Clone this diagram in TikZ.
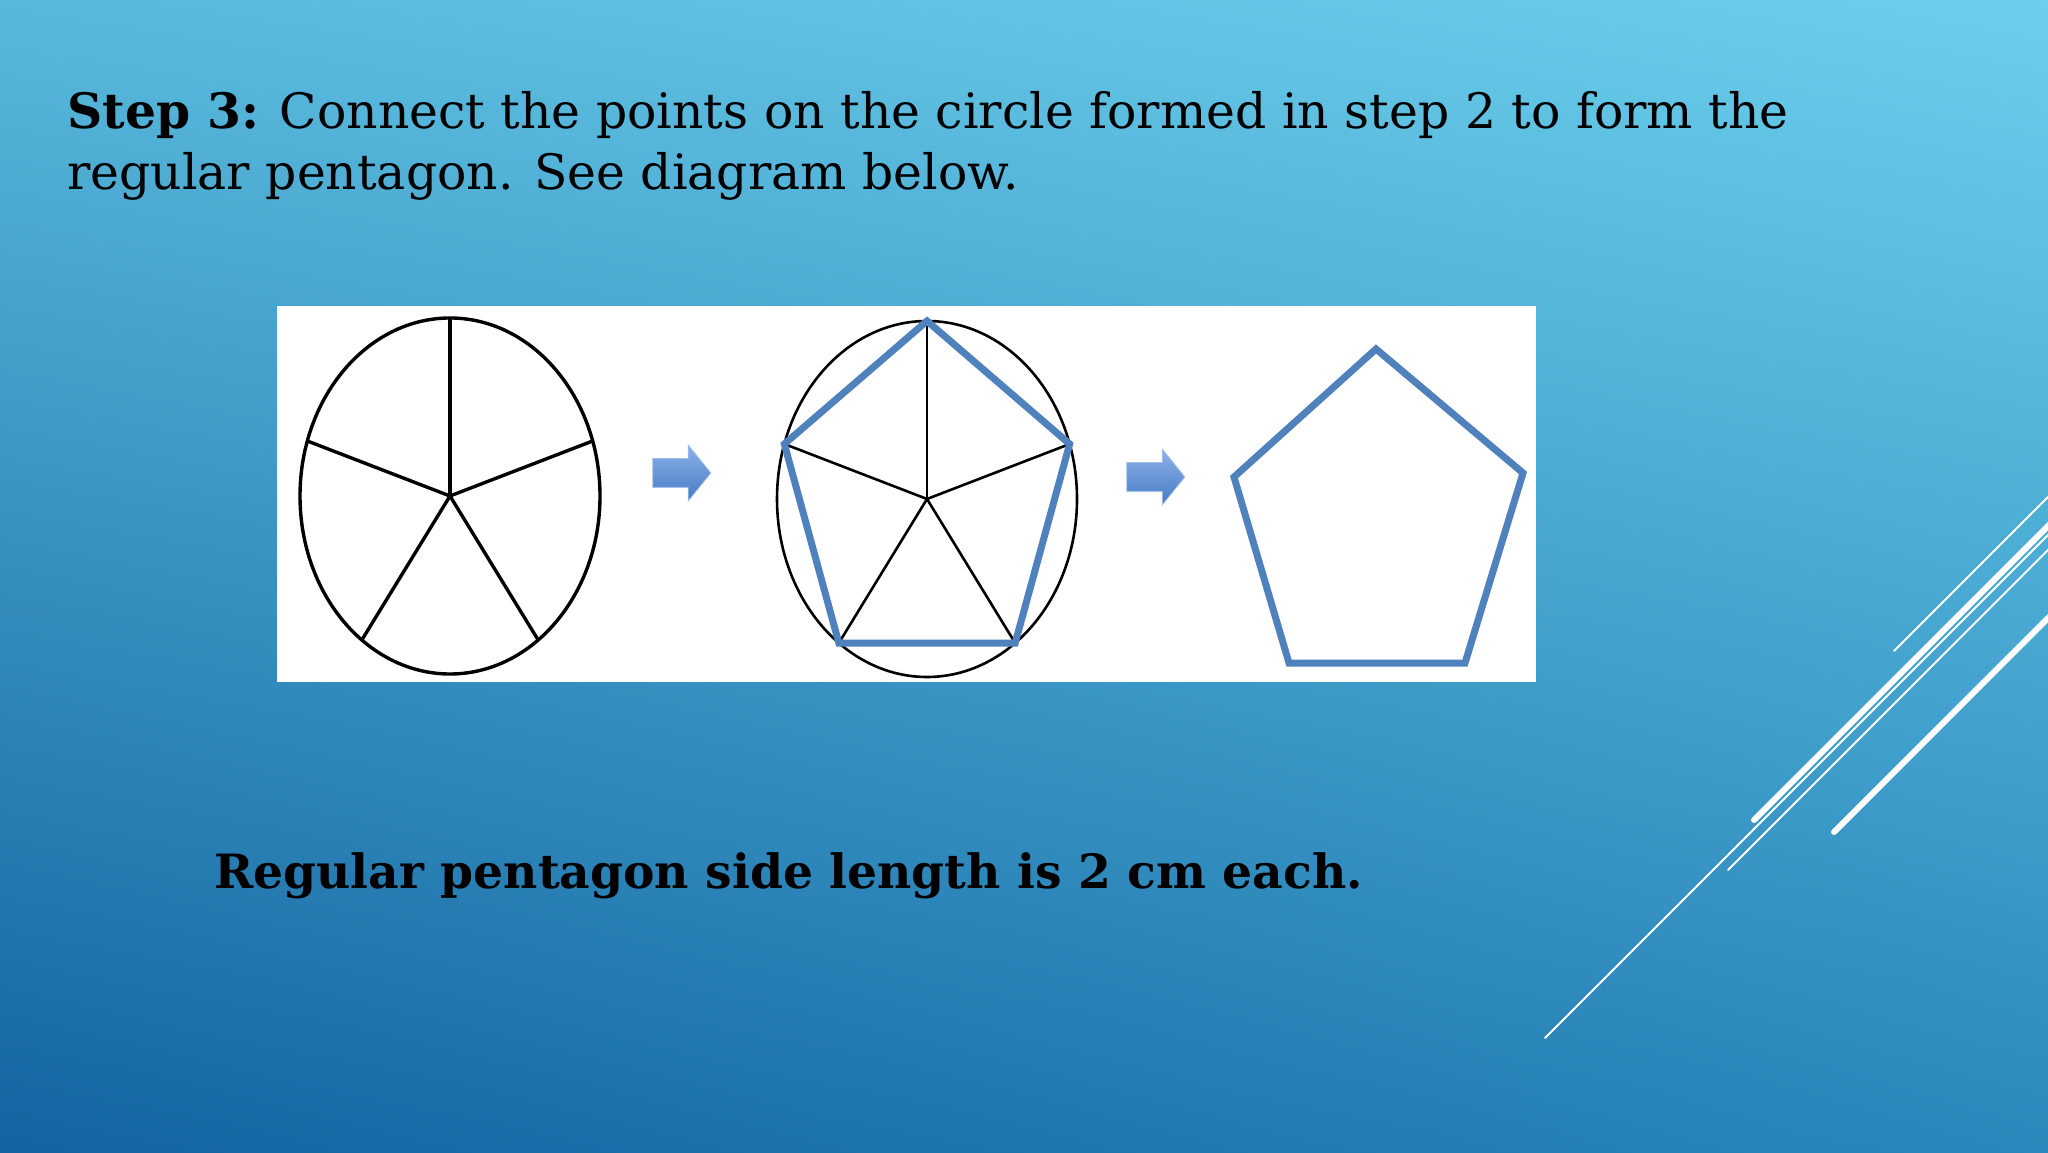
\documentclass[tikz,border=0pt]{standalone}
\usepackage{fontspec}
\setmainfont{DejaVu Serif}
\usetikzlibrary{shapes.arrows,calc,shadings}

\definecolor{bgtl}{RGB}{88,184,220}
\definecolor{bgtr}{RGB}{108,207,236}
\definecolor{bgbl}{RGB}{19,99,160}
\definecolor{bgbr}{RGB}{42,136,188}
\definecolor{penblue}{RGB}{79,129,189}
\definecolor{arrowtop}{RGB}{140,178,232}
\definecolor{arrowbot}{RGB}{70,122,196}
\definecolor{arrowedge}{RGB}{160,190,232}

\begin{document}
\begin{tikzpicture}[x=0.5pt,y=0.5pt,
  spoke/.style={black,line width=1.7pt},
  thinspoke/.style={black,line width=1.3pt},
  penline/.style={penblue,line width=3.5pt,line join=miter},
  steparrow/.style={single arrow,draw=arrowedge,line width=0.4pt,top color=arrowtop,bottom color=arrowbot,
    minimum height=29pt,inner xsep=0pt,inner ysep=7pt,single arrow head extend=6.75pt,single arrow tip angle=102},
  streak/.style={white,line cap=round},
  slidetext/.style={anchor=base west,inner sep=0pt,font=\fontsize{24.4}{28}\selectfont}]

\useasboundingbox (0,0) rectangle (2048,1152);
\shade[upper left=bgtl,upper right=bgtr,lower left=bgbl,lower right=bgbr] (0,0) rectangle (2048,1152);

% streaks at the right edge
\begin{scope}
  \clip (0,0) rectangle (2048,1152);
  \draw[streak,line width=1pt] (1894,501) -- (2060,667);
  \draw[streak,line width=3pt] (1754,332) -- (2060,638);
  \draw[streak,line width=1pt] (1728,282) -- (2060,614);
  \draw[streak,line width=1pt] (1545,114) -- (2060,629);
  \draw[streak,line width=3pt] (1834,320) -- (2060,546);
\end{scope}

% heading
\node[slidetext] (title1) at (67,1023) {\textbf{Step 3:} Connect the points on the circle formed in step 2 to form the};
\node[slidetext] (title2) at (67,962) {regular pentagon. See diagram below.};

% white panel
\fill[white] (277,470) rectangle (1536,846);

% circle cut in five
\coordinate (c1) at (450,656);
\draw[spoke] (c1) ellipse (150 and 178);
\foreach \a in {90,18,-54,-126,162}
  \draw[spoke] (c1) -- ++({150*cos(\a)},{178*sin(\a)});

\node[steparrow] (arr1) at (676,679) {};

% circle with the pentagon
\coordinate (c2) at (927,653);
\draw[thinspoke] (c2) ellipse (150 and 178);
\foreach \a [count=\i] in {90,18,-54,-126,162} {
  \coordinate (p\i) at ($(c2)+({150*cos(\a)},{178*sin(\a)})$);
  \draw[thinspoke] (c2) -- (p\i);
}
\draw[penline] (p1) -- (p2) -- (p3) -- (p4) -- (p5) -- cycle;

\node[steparrow] (arr2) at (1150,675) {};

% the pentagon alone
\coordinate (q1) at (1376,803);
\coordinate (q2) at (1523,679);
\coordinate (q3) at (1465,489);
\coordinate (q4) at (1289,489);
\coordinate (q5) at (1234,675);
\draw[penline] (q1) -- (q2) -- (q3) -- (q4) -- (q5) -- cycle;

\node[slidetext,font=\fontsize{23.6}{28}\selectfont\bfseries] (note) at (214,264) {Regular pentagon side length is 2 cm each.};
\end{tikzpicture}
\end{document}
